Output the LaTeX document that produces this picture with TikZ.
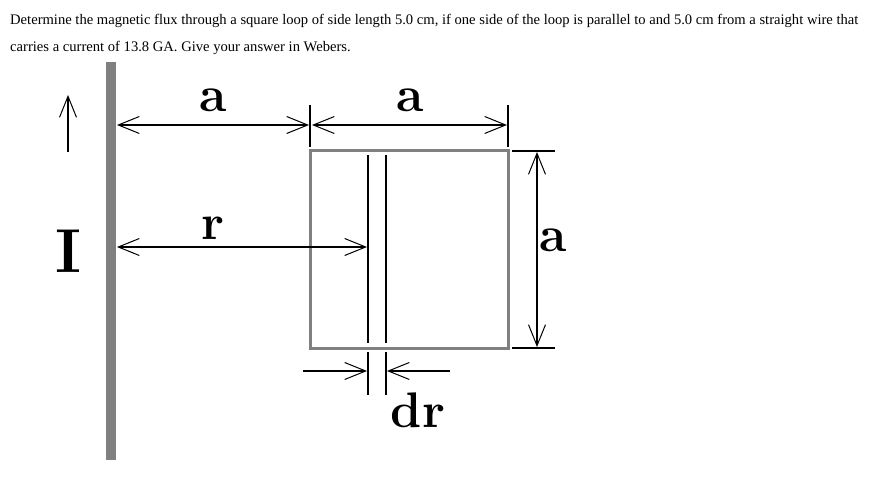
\documentclass[tikz,border=0pt]{standalone}
\usepackage{fontspec}
\setmainfont{Liberation Serif}
\newfontfamily\lblfont{Latin Modern Roman}
\usetikzlibrary{arrows.meta}
\begin{document}
\begin{tikzpicture}[x=1pt,y=-1pt,
  tip/.tip={Straight Barb[length=21pt,width=17pt,line width=1pt]},
  dim/.style={line width=1.3pt,tip-tip},
  single/.style={line width=1.3pt,-tip},
  tick/.style={line width=1.3pt},
  lbl/.style={font=\lblfont\bfseries\fontsize{50}{50}\selectfont,inner sep=0pt},
  txt/.style={font=\fontsize{14.6}{16}\selectfont,anchor=west,inner sep=0pt}]
\useasboundingbox (0,0) rectangle (879,484);
\node[txt] (t1) at (10,21) {Determine the magnetic flux through a square loop of side length 5.0 cm, if one side of the loop is parallel to and 5.0 cm from a straight wire that};
\node[txt] (t2) at (10,48) {carries a current of 13.8 GA. Give your answer in Webers.};
\fill[gray] (106,62) rectangle (116,460);
\coordinate (ib) at (68,152); \coordinate (it) at (68,95);
\draw[single] (ib) -- (it);
\node[font=\lblfont\bfseries\fontsize{62}{62}\selectfont,inner sep=0pt] (I) at (68,251) {I};
\draw[tick] (310,105) -- (310,147);
\draw[tick] (508,105) -- (508,147);
\draw[dim] (117,125) -- (309,125);
\draw[dim] (312,125) -- (507,125);
\node[lbl] (a1) at (213,100) {a};
\node[lbl] (a2) at (410,100) {a};
\draw[line width=3pt,gray] (310,151) rectangle (508,348);
\draw[tick] (368,155) -- (368,343); \draw[tick] (386,155) -- (386,343);
\draw[tick] (368,352) -- (368,395); \draw[tick] (386,352) -- (386,395);
\draw[dim] (117,247) -- (367,247);
\node[lbl] (r) at (213,228) {r};
\draw[tick] (512,151) -- (555,151); \draw[tick] (512,348) -- (555,348);
\draw[dim] (537,152) -- (537,347);
\node[lbl] (a3) at (553,240) {a};
\draw[single] (303,371) -- (367,371);
\draw[single] (450,371) -- (387,371);
\node[lbl] (dr) at (418,410) {dr};
\end{tikzpicture}
\end{document}
